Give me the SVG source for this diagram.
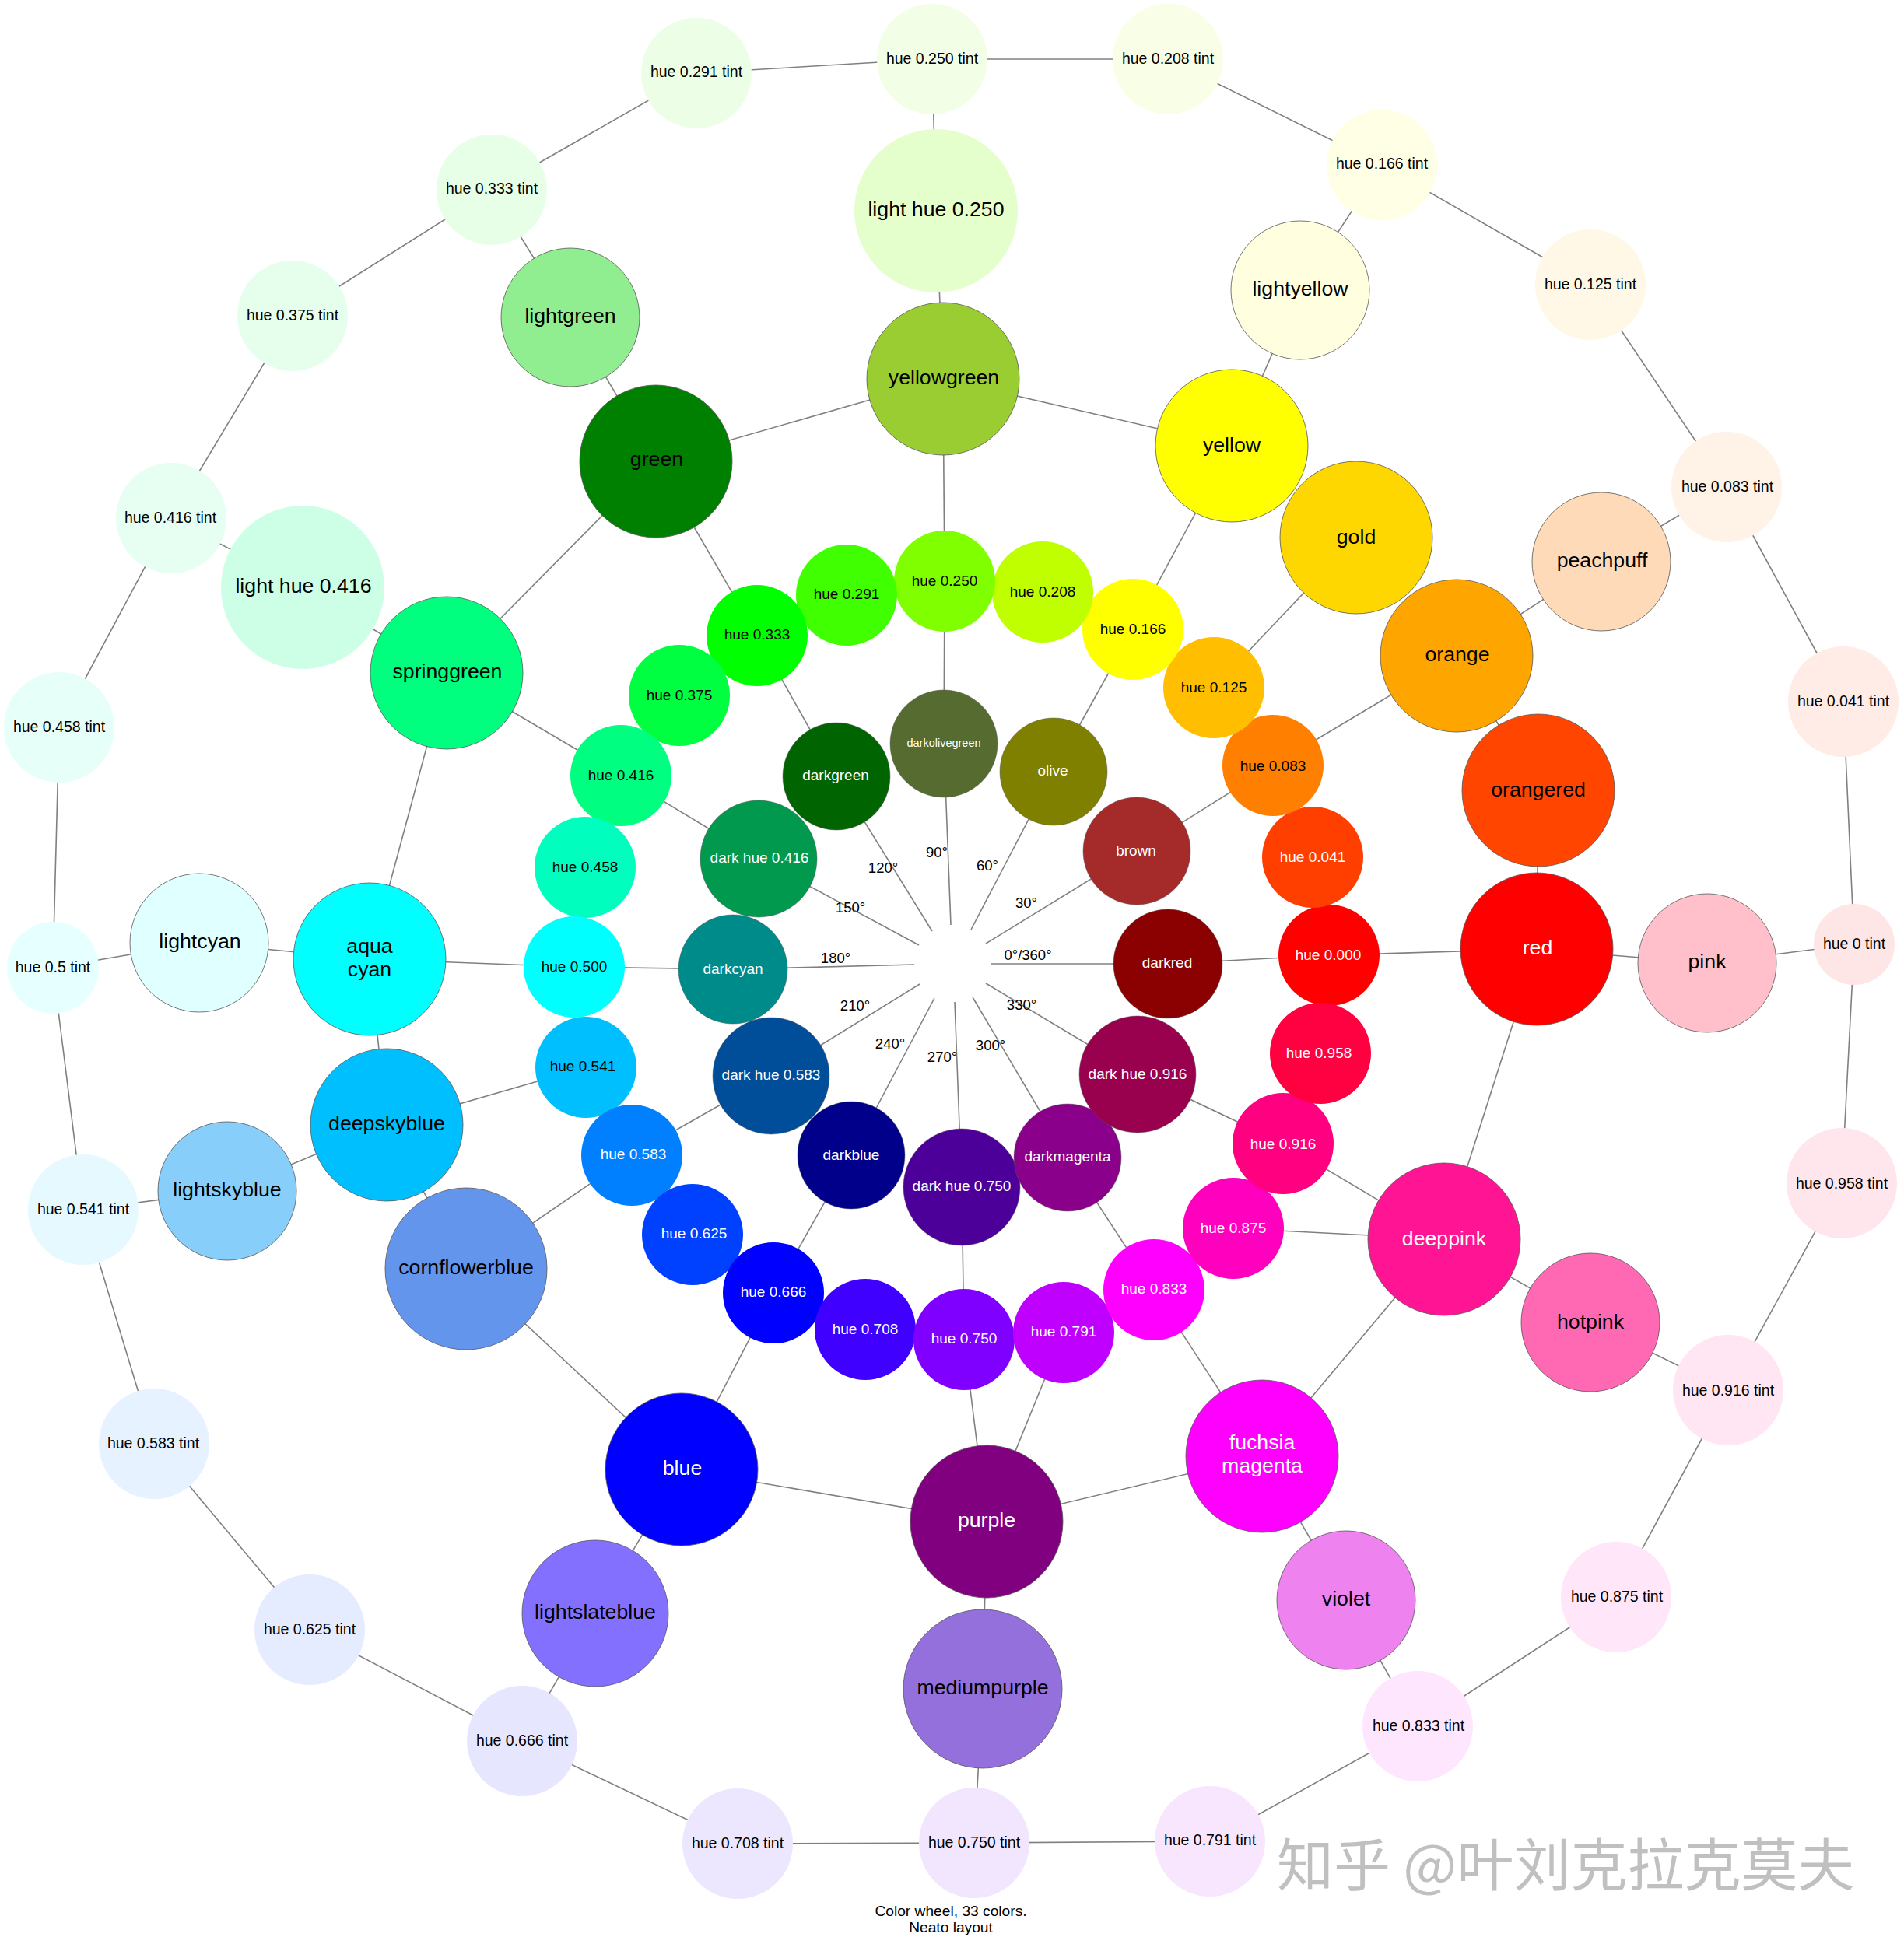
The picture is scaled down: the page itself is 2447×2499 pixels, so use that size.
<svg xmlns="http://www.w3.org/2000/svg" width="2447" height="2499" viewBox="0 0 2447 2499">
<style>
text{font-family:"Liberation Sans",Arial,sans-serif;text-anchor:middle;dominant-baseline:central;fill:#000}
.w{fill:#fff}
.t text{font-size:19.5px}
.h text{font-size:19px}
.m text{font-size:26.7px}
.a{font-size:18.5px}
.cap{font-size:19.2px}
circle{stroke:none}
.m circle{stroke:#555;stroke-width:1;stroke-opacity:.8}
.d circle{stroke:#555;stroke-width:.7;stroke-opacity:.7}
#conn line{stroke:#808080;stroke-width:1.6}
.wm{font-family:"Noto Sans CJK SC","Liberation Sans",sans-serif;font-size:73px;fill:#c0c0c0;text-anchor:start}
</style>
<rect width="2447" height="2499" fill="#fff"/>
<g id="conn">
<line x1="2383" y1="1214" x2="2369" y2="902"/><line x1="2369" y1="902" x2="2219" y2="626"/><line x1="2219" y1="626" x2="2044" y2="366"/><line x1="2044" y1="366" x2="1776" y2="212"/><line x1="1776" y1="212" x2="1501" y2="76"/><line x1="1501" y1="76" x2="1198" y2="76"/><line x1="1198" y1="76" x2="895" y2="94"/><line x1="895" y1="94" x2="632" y2="244"/><line x1="632" y1="244" x2="376" y2="406"/><line x1="376" y1="406" x2="220" y2="666"/><line x1="220" y1="666" x2="76" y2="935"/><line x1="76" y1="935" x2="68" y2="1244"/><line x1="68" y1="1244" x2="107" y2="1555"/><line x1="107" y1="1555" x2="198" y2="1856"/><line x1="198" y1="1856" x2="398" y2="2095"/><line x1="398" y1="2095" x2="671" y2="2238"/><line x1="671" y1="2238" x2="948" y2="2370"/><line x1="948" y1="2370" x2="1252" y2="2369"/><line x1="1252" y1="2369" x2="1555" y2="2367"/><line x1="1555" y1="2367" x2="1822" y2="2219"/><line x1="1822" y1="2219" x2="2077" y2="2053"/><line x1="2077" y1="2053" x2="2221" y2="1787"/><line x1="2221" y1="1787" x2="2367" y2="1521"/><line x1="2367" y1="1521" x2="2383" y2="1214"/>
<line x1="2194" y1="1238" x2="2383" y2="1214"/><line x1="2058" y1="722" x2="2219" y2="626"/><line x1="1671" y1="373" x2="1776" y2="212"/><line x1="1203" y1="271" x2="1198" y2="76"/><line x1="733" y1="408" x2="632" y2="244"/><line x1="389" y1="755" x2="220" y2="666"/><line x1="256" y1="1212" x2="68" y2="1244"/><line x1="292" y1="1531" x2="107" y2="1555"/><line x1="765" y1="2074" x2="671" y2="2238"/><line x1="1263" y1="2171" x2="1252" y2="2369"/><line x1="1730" y1="2057" x2="1822" y2="2219"/><line x1="2044" y1="1700" x2="2221" y2="1787"/>
<line x1="1975" y1="1220" x2="2194" y2="1238"/><line x1="1872" y1="843" x2="2058" y2="722"/><line x1="1583" y1="573" x2="1671" y2="373"/><line x1="1212" y1="487" x2="1203" y2="271"/><line x1="843" y1="593" x2="733" y2="408"/><line x1="574" y1="865" x2="389" y2="755"/><line x1="475" y1="1233" x2="256" y2="1212"/><line x1="497" y1="1446" x2="292" y2="1531"/><line x1="876" y1="1889" x2="765" y2="2074"/><line x1="1268" y1="1956" x2="1263" y2="2171"/><line x1="1622" y1="1872" x2="1730" y2="2057"/><line x1="1856" y1="1593" x2="2044" y2="1700"/>
<line x1="1975" y1="1220" x2="1856" y2="1593"/><line x1="1856" y1="1593" x2="1622" y2="1872"/><line x1="1622" y1="1872" x2="1268" y2="1956"/><line x1="1268" y1="1956" x2="876" y2="1889"/><line x1="876" y1="1889" x2="599" y2="1631"/><line x1="599" y1="1631" x2="497" y2="1446"/><line x1="497" y1="1446" x2="475" y2="1233"/><line x1="475" y1="1233" x2="574" y2="865"/><line x1="574" y1="865" x2="843" y2="593"/><line x1="843" y1="593" x2="1212" y2="487"/><line x1="1212" y1="487" x2="1583" y2="573"/><line x1="1872" y1="843" x2="1977" y2="1016"/><line x1="1977" y1="1016" x2="1975" y2="1220"/>
<line x1="1708" y1="1228" x2="1975" y2="1220"/><line x1="1636" y1="984" x2="1872" y2="843"/><line x1="1560" y1="884" x2="1743" y2="691"/><line x1="1456" y1="809" x2="1583" y2="573"/><line x1="1214" y1="747" x2="1212" y2="487"/><line x1="973" y1="817" x2="843" y2="593"/><line x1="798" y1="997" x2="574" y2="865"/><line x1="738" y1="1243" x2="475" y2="1233"/><line x1="753" y1="1372" x2="497" y2="1446"/><line x1="812" y1="1485" x2="599" y2="1631"/><line x1="994" y1="1662" x2="876" y2="1889"/><line x1="1239" y1="1722" x2="1268" y2="1956"/><line x1="1367" y1="1713" x2="1268" y2="1956"/><line x1="1483" y1="1658" x2="1622" y2="1872"/><line x1="1585" y1="1579" x2="1856" y2="1593"/><line x1="1649" y1="1470" x2="1856" y2="1593"/>
<line x1="1501" y1="1239" x2="1708" y2="1228"/><line x1="1461" y1="1094" x2="1636" y2="984"/><line x1="1354" y1="992" x2="1456" y2="809"/><line x1="1213" y1="956" x2="1214" y2="747"/><line x1="1075" y1="998" x2="973" y2="817"/><line x1="975" y1="1104" x2="798" y2="997"/><line x1="942" y1="1246" x2="738" y2="1243"/><line x1="991" y1="1383" x2="812" y2="1485"/><line x1="1094" y1="1485" x2="994" y2="1662"/><line x1="1236" y1="1526" x2="1239" y2="1722"/><line x1="1372" y1="1488" x2="1483" y2="1658"/><line x1="1462" y1="1381" x2="1649" y2="1470"/>
<line x1="1274" y1="1239" x2="1501" y2="1239"/><line x1="1267" y1="1213" x2="1461" y2="1094"/><line x1="1248" y1="1195" x2="1354" y2="992"/><line x1="1222" y1="1189" x2="1213" y2="956"/><line x1="1198" y1="1197" x2="1075" y2="998"/><line x1="1181" y1="1215" x2="975" y2="1104"/><line x1="1175" y1="1240" x2="942" y2="1246"/><line x1="1182" y1="1265" x2="991" y2="1383"/><line x1="1201" y1="1283" x2="1094" y2="1485"/><line x1="1227" y1="1288" x2="1236" y2="1526"/><line x1="1250" y1="1282" x2="1372" y2="1488"/><line x1="1267" y1="1264" x2="1462" y2="1381"/>
</g>
<g id="nodes-tint" class="t">
<g id="tint-0"><circle cx="2383" cy="1214" r="52" fill="#ffe6e6"/><text x="2383" y="1213">hue 0 tint</text></g>
<g id="tint-041"><circle cx="2369" cy="902" r="71" fill="#ffece6"/><text x="2369" y="901">hue 0.041 tint</text></g>
<g id="tint-083"><circle cx="2219" cy="626" r="71" fill="#fff2e6"/><text x="2220" y="625">hue 0.083 tint</text></g>
<g id="tint-125"><circle cx="2044" cy="366" r="71" fill="#fff8e6"/><text x="2044" y="365">hue 0.125 tint</text></g>
<g id="tint-166"><circle cx="1776" cy="212" r="71" fill="#ffffe6"/><text x="1776" y="210">hue 0.166 tint</text></g>
<g id="tint-208"><circle cx="1501" cy="76" r="71" fill="#f9ffe6"/><text x="1501" y="75">hue 0.208 tint</text></g>
<g id="tint-250"><circle cx="1198" cy="76" r="71" fill="#f2ffe6"/><text x="1198" y="75">hue 0.250 tint</text></g>
<g id="tint-291"><circle cx="895" cy="94" r="71" fill="#ecffe6"/><text x="895" y="92">hue 0.291 tint</text></g>
<g id="tint-333"><circle cx="632" cy="244" r="71" fill="#e6ffe6"/><text x="632" y="242">hue 0.333 tint</text></g>
<g id="tint-375"><circle cx="376" cy="406" r="71" fill="#e6ffec"/><text x="376" y="405">hue 0.375 tint</text></g>
<g id="tint-416"><circle cx="220" cy="666" r="71" fill="#e6fff2"/><text x="219" y="665">hue 0.416 tint</text></g>
<g id="tint-458"><circle cx="76" cy="935" r="71" fill="#e6fff8"/><text x="76" y="934">hue 0.458 tint</text></g>
<g id="tint-5"><circle cx="68" cy="1244" r="59" fill="#e6ffff"/><text x="68" y="1243">hue 0.5 tint</text></g>
<g id="tint-541"><circle cx="107" cy="1555" r="71" fill="#e6f9ff"/><text x="107" y="1554">hue 0.541 tint</text></g>
<g id="tint-583"><circle cx="198" cy="1856" r="71" fill="#e6f2ff"/><text x="197" y="1855">hue 0.583 tint</text></g>
<g id="tint-625"><circle cx="398" cy="2095" r="71" fill="#e6ecff"/><text x="398" y="2094">hue 0.625 tint</text></g>
<g id="tint-666"><circle cx="671" cy="2238" r="71" fill="#e6e6ff"/><text x="671" y="2237">hue 0.666 tint</text></g>
<g id="tint-708"><circle cx="948" cy="2370" r="71" fill="#ece6ff"/><text x="948" y="2369">hue 0.708 tint</text></g>
<g id="tint-750"><circle cx="1252" cy="2369" r="71" fill="#f2e6ff"/><text x="1252" y="2368">hue 0.750 tint</text></g>
<g id="tint-791"><circle cx="1555" cy="2367" r="71" fill="#f8e6ff"/><text x="1555" y="2365">hue 0.791 tint</text></g>
<g id="tint-833"><circle cx="1822" cy="2219" r="71" fill="#ffe6ff"/><text x="1823" y="2218">hue 0.833 tint</text></g>
<g id="tint-875"><circle cx="2077" cy="2053" r="71" fill="#ffe6f8"/><text x="2078" y="2052">hue 0.875 tint</text></g>
<g id="tint-916"><circle cx="2221" cy="1787" r="71" fill="#ffe6f2"/><text x="2221" y="1787">hue 0.916 tint</text></g>
<g id="tint-958"><circle cx="2367" cy="1521" r="71" fill="#ffe6ec"/><text x="2367" y="1521">hue 0.958 tint</text></g>
</g>
<g id="nodes-light" class="m">
<g id="pink"><circle cx="2194" cy="1238" r="89" fill="#ffc0cb"/><text x="2194" y="1236">pink</text></g>
<g id="peachpuff"><circle cx="2058" cy="722" r="89" fill="#ffdab9"/><text x="2059" y="720">peachpuff</text></g>
<g id="lightyellow"><circle cx="1671" cy="373" r="89" fill="#ffffe0"/><text x="1671" y="371">lightyellow</text></g>
<g id="light-250"><circle cx="1203" cy="271" r="105" fill="#e5ffcc" style="stroke:none"/><text x="1203" y="269">light hue 0.250</text></g>
<g id="lightgreen"><circle cx="733" cy="408" r="89" fill="#90ee90"/><text x="733" y="406">lightgreen</text></g>
<g id="light-416"><circle cx="389" cy="755" r="105" fill="#ccffe5" style="stroke:none"/><text x="390" y="753">light hue 0.416</text></g>
<g id="lightcyan"><circle cx="256" cy="1212" r="89" fill="#e0ffff"/><text x="257" y="1210">lightcyan</text></g>
<g id="lightskyblue"><circle cx="292" cy="1531" r="89" fill="#87cefa"/><text x="292" y="1529">lightskyblue</text></g>
<g id="lightslateblue"><circle cx="765" cy="2074" r="94" fill="#8470ff"/><text x="765" y="2072">lightslateblue</text></g>
<g id="mediumpurple"><circle cx="1263" cy="2171" r="102" fill="#9370db"/><text x="1263" y="2169">mediumpurple</text></g>
<g id="violet"><circle cx="1730" cy="2057" r="89" fill="#ee82ee"/><text x="1730" y="2055">violet</text></g>
<g id="hotpink"><circle cx="2044" cy="1700" r="89" fill="#ff69b4"/><text x="2044" y="1699">hotpink</text></g>
</g>
<g id="nodes-mid" class="m">
<g id="yellow"><circle cx="1583" cy="573" r="98" fill="#ffff00"/><text x="1583" y="572">yellow</text></g>
<g id="gold"><circle cx="1743" cy="691" r="98" fill="#ffd700"/><text x="1743" y="690">gold</text></g>
<g id="orange"><circle cx="1872" cy="843" r="98" fill="#ffa500"/><text x="1873" y="841">orange</text></g>
<g id="orangered"><circle cx="1977" cy="1016" r="98" fill="#ff4500"/><text x="1977" y="1015">orangered</text></g>
<g id="red"><circle cx="1975" cy="1220" r="98" fill="#ff0000"/><text x="1976" y="1218" class="w">red</text></g>
<g id="yellowgreen"><circle cx="1212" cy="487" r="98" fill="#9acd32"/><text x="1213" y="485">yellowgreen</text></g>
<g id="green"><circle cx="843" cy="593" r="98" fill="#008000"/><text x="844" y="590">green</text></g>
<g id="springgreen"><circle cx="574" cy="865" r="98" fill="#00ff7f"/><text x="575" y="863">springgreen</text></g>
<g id="aqua"><circle cx="475" cy="1233" r="98" fill="#00ffff"/><text x="475" y="1233"><tspan x="475" y="1216">aqua</tspan><tspan x="475" y="1246">cyan</tspan></text></g>
<g id="deepskyblue"><circle cx="497" cy="1446" r="98" fill="#00bfff"/><text x="497" y="1444">deepskyblue</text></g>
<g id="cornflowerblue"><circle cx="599" cy="1631" r="104" fill="#6495ed"/><text x="599" y="1629">cornflowerblue</text></g>
<g id="blue"><circle cx="876" cy="1889" r="98" fill="#0000ff"/><text x="877" y="1887" class="w">blue</text></g>
<g id="purple"><circle cx="1268" cy="1956" r="98" fill="#800080"/><text x="1268" y="1954" class="w">purple</text></g>
<g id="fuchsia"><circle cx="1622" cy="1872" r="98" fill="#ff00ff"/><text x="1622" y="1872" class="w"><tspan x="1622" y="1854">fuchsia</tspan><tspan x="1622" y="1884">magenta</tspan></text></g>
<g id="deeppink"><circle cx="1856" cy="1593" r="98" fill="#ff1493"/><text x="1856" y="1592" class="w">deeppink</text></g>
</g>
<g id="nodes-hue" class="h">
<g id="hue-000"><circle cx="1708" cy="1228" r="65" fill="#ff0000"/><text x="1707" y="1227" class="w">hue 0.000</text></g>
<g id="hue-041"><circle cx="1687" cy="1102" r="65" fill="#ff3f00"/><text x="1687" y="1101" class="w">hue 0.041</text></g>
<g id="hue-083"><circle cx="1636" cy="984" r="65" fill="#ff7f00"/><text x="1636" y="984">hue 0.083</text></g>
<g id="hue-125"><circle cx="1560" cy="884" r="65" fill="#ffbf00"/><text x="1560" y="883">hue 0.125</text></g>
<g id="hue-166"><circle cx="1456" cy="809" r="65" fill="#ffff00"/><text x="1456" y="808">hue 0.166</text></g>
<g id="hue-208"><circle cx="1340" cy="761" r="65" fill="#bfff00"/><text x="1340" y="760">hue 0.208</text></g>
<g id="hue-250"><circle cx="1214" cy="747" r="65" fill="#80ff00"/><text x="1214" y="746">hue 0.250</text></g>
<g id="hue-291"><circle cx="1088" cy="765" r="65" fill="#40ff00"/><text x="1088" y="763">hue 0.291</text></g>
<g id="hue-333"><circle cx="973" cy="817" r="65" fill="#00ff00"/><text x="973" y="815">hue 0.333</text></g>
<g id="hue-375"><circle cx="873" cy="894" r="65" fill="#00ff40"/><text x="873" y="893">hue 0.375</text></g>
<g id="hue-416"><circle cx="798" cy="997" r="65" fill="#00ff80"/><text x="798" y="996">hue 0.416</text></g>
<g id="hue-458"><circle cx="752" cy="1115" r="65" fill="#00ffbf"/><text x="752" y="1114">hue 0.458</text></g>
<g id="hue-500"><circle cx="738" cy="1243" r="65" fill="#00ffff"/><text x="738" y="1242">hue 0.500</text></g>
<g id="hue-541"><circle cx="753" cy="1372" r="65" fill="#00bfff"/><text x="749" y="1370">hue 0.541</text></g>
<g id="hue-583"><circle cx="812" cy="1485" r="65" fill="#0080ff"/><text x="814" y="1483" class="w">hue 0.583</text></g>
<g id="hue-625"><circle cx="890" cy="1587" r="65" fill="#0040ff"/><text x="892" y="1585" class="w">hue 0.625</text></g>
<g id="hue-666"><circle cx="994" cy="1662" r="65" fill="#0000ff"/><text x="994" y="1660" class="w">hue 0.666</text></g>
<g id="hue-708"><circle cx="1112" cy="1709" r="65" fill="#4000ff"/><text x="1112" y="1708" class="w">hue 0.708</text></g>
<g id="hue-750"><circle cx="1239" cy="1722" r="65" fill="#8000ff"/><text x="1239" y="1720" class="w">hue 0.750</text></g>
<g id="hue-791"><circle cx="1367" cy="1713" r="65" fill="#bf00ff"/><text x="1367" y="1711" class="w">hue 0.791</text></g>
<g id="hue-833"><circle cx="1483" cy="1658" r="65" fill="#ff00ff"/><text x="1483" y="1656" class="w">hue 0.833</text></g>
<g id="hue-875"><circle cx="1585" cy="1579" r="65" fill="#ff00bf"/><text x="1585" y="1578" class="w">hue 0.875</text></g>
<g id="hue-916"><circle cx="1649" cy="1470" r="65" fill="#ff0080"/><text x="1649" y="1470" class="w">hue 0.916</text></g>
<g id="hue-958"><circle cx="1697" cy="1354" r="65" fill="#ff0040"/><text x="1695" y="1353" class="w">hue 0.958</text></g>
</g>
<g id="nodes-dark" class="h d">
<g id="darkred"><circle cx="1501" cy="1239" r="70" fill="#8b0000"/><text x="1500" y="1237" class="w">darkred</text></g>
<g id="brown"><circle cx="1461" cy="1094" r="69" fill="#a52a2a"/><text x="1460" y="1093" class="w">brown</text></g>
<g id="olive"><circle cx="1354" cy="992" r="69" fill="#808000"/><text x="1353" y="990" class="w">olive</text></g>
<g id="darkolivegreen"><circle cx="1213" cy="956" r="69" fill="#556b2f"/><text x="1213" y="955" class="w" style="font-size:14.5px">darkolivegreen</text></g>
<g id="darkgreen"><circle cx="1075" cy="998" r="69" fill="#006400"/><text x="1074" y="996" class="w">darkgreen</text></g>
<g id="dark-416"><circle cx="975" cy="1104" r="75" fill="#00994d"/><text x="976" y="1102" class="w">dark hue 0.416</text></g>
<g id="darkcyan"><circle cx="942" cy="1246" r="70" fill="#008b8b"/><text x="942" y="1245" class="w">darkcyan</text></g>
<g id="dark-583"><circle cx="991" cy="1383" r="75" fill="#004d99"/><text x="991" y="1381" class="w">dark hue 0.583</text></g>
<g id="darkblue"><circle cx="1094" cy="1485" r="69" fill="#00008b"/><text x="1094" y="1484" class="w">darkblue</text></g>
<g id="dark-750"><circle cx="1236" cy="1526" r="75" fill="#4d0099"/><text x="1236" y="1524" class="w">dark hue 0.750</text></g>
<g id="darkmagenta"><circle cx="1372" cy="1488" r="69" fill="#8b008b"/><text x="1372" y="1486" class="w">darkmagenta</text></g>
<g id="dark-916"><circle cx="1462" cy="1381" r="75" fill="#99004d"/><text x="1462" y="1380" class="w">dark hue 0.916</text></g>
</g>
<g id="angles">
<text class="a" x="1321" y="1227">0°/360°</text>
<text class="a" x="1319" y="1160">30°</text>
<text class="a" x="1269" y="1112">60°</text>
<text class="a" x="1204" y="1095">90°</text>
<text class="a" x="1135" y="1115">120°</text>
<text class="a" x="1093" y="1166">150°</text>
<text class="a" x="1074" y="1231">180°</text>
<text class="a" x="1099" y="1292">210°</text>
<text class="a" x="1144" y="1341">240°</text>
<text class="a" x="1211" y="1358">270°</text>
<text class="a" x="1273" y="1343">300°</text>
<text class="a" x="1313" y="1291">330°</text>
</g>
<g id="caption">
<text class="cap" x="1222" y="2456">Color wheel, 33 colors.</text>
<text class="cap" x="1222" y="2477">Neato layout</text>
</g>
<text class="wm" x="1641" y="2392">知乎 @叶刘克拉克莫夫</text>
</svg>
